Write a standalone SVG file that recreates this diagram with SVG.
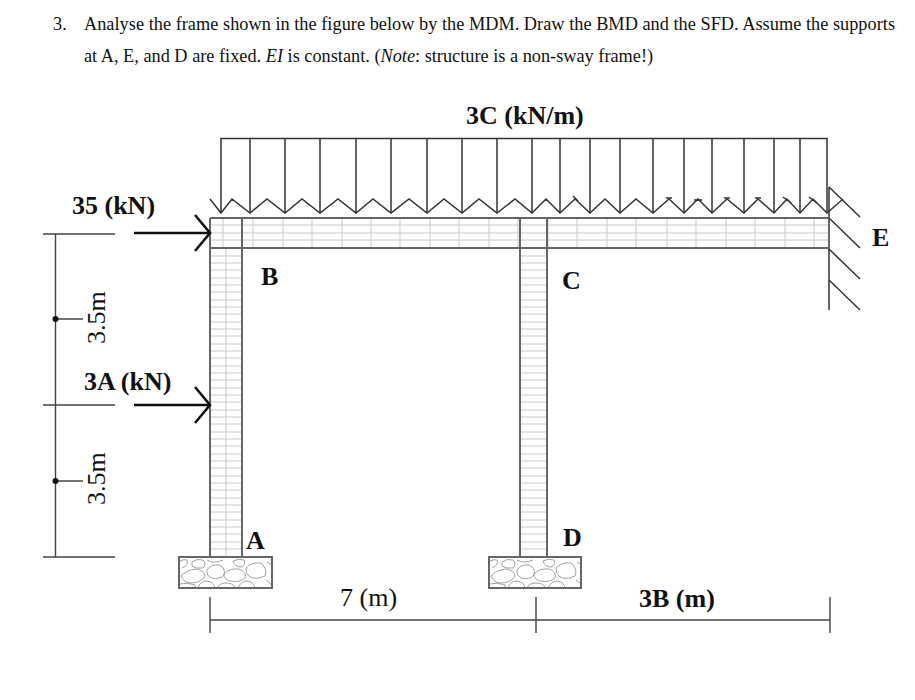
<svg xmlns="http://www.w3.org/2000/svg" width="915" height="700" viewBox="0 0 915 700">
<style>
text{font-family:"Liberation Serif","Times New Roman",serif;fill:#111}
.h{font-size:18.3px}
.b{font-size:26px;font-weight:bold}
.l{font-size:26px}
.g{stroke:#c8c8c8;stroke-width:1;fill:none}
.m{stroke:#666;stroke-width:2;fill:none}
.k{stroke:#333;stroke-width:1.5;fill:none}
.a{stroke:#111;stroke-width:2.6;fill:none}
.d{stroke:#444;stroke-width:1.4;fill:none}
.s{stroke:#a0a0a0;stroke-width:1;fill:none}
</style>
<defs>
<path id="stones" class="s" d="M13 5Q18 1 24 3Q28 7 24 11Q17 12 13 9ZM28 13Q32 7 40 8Q47 11 45 18Q40 23 33 21Q27 19 28 13ZM45 17Q50 11 60 12Q68 15 66 21Q60 26 51 24Q45 22 45 17ZM67 11Q72 5 82 6Q89 12 86 19Q78 23 71 20Q66 16 67 11ZM2 19Q7 13 17 12Q25 13 26 19Q22 26 12 26Q5 26 2 19ZM54 4Q59 1 65 3Q67 8 62 10Q56 10 54 4ZM19 31Q21 24 28 24Q35 25 36 31M38 31Q40 26 47 26Q55 26 56 31M59 31Q62 24 68 24Q75 25 76 31M1 27Q8 25 16 28V31M87 23Q91 25 93 29M1 4Q5 2 8 3Q10 8 3 11M28 3Q35 7 44 3M88 5L93 8"/>
</defs>
<g id="header">
<text class="h" x="53" y="30">3.</text>
<text class="h" x="84" y="30" textLength="811">Analyse the frame shown in the figure below by the MDM. Draw the BMD and the SFD. Assume the supports</text>
<text class="h" x="84" y="62">at A, E, and D are fixed. <tspan font-style="italic">EI</tspan> is constant. (<tspan font-style="italic">Note</tspan>: structure is a non-sway frame!)</text>
</g>
<g id="frame">
<path class="g" d="M210 225H829M210 233H829M210 240H829M223 218V248M253 218V248M283 218V248M312 218V248M342 218V248M371 218V248M400 218V248M430 218V248M459 218V248M489 218V248M518 218V248M548 218V248M577 218V248M607 218V248M636 218V248M667 218V248M696 218V248M726 218V248M755 218V248M785 218V248M814 218V248"/>
<path class="g" d="M210 256H242M210 263H242M210 270H242M210 278H242M210 285H242M210 292H242M210 300H242M210 307H242M210 314H242M210 322H242M210 329H242M210 336H242M210 344H242M210 351H242M210 358H242M210 366H242M210 373H242M210 380H242M210 388H242M210 395H242M210 402H242M210 410H242M210 417H242M210 424H242M210 432H242M210 439H242M210 446H242M210 454H242M210 461H242M210 468H242M210 476H242M210 483H242M210 490H242M210 498H242M210 505H242M210 512H242M210 520H242M210 527H242M210 534H242M210 542H242M210 549H242M226 248V557"/>
<path class="g" d="M520 256H547M520 263H547M520 270H547M520 278H547M520 285H547M520 292H547M520 300H547M520 307H547M520 314H547M520 322H547M520 329H547M520 336H547M520 344H547M520 351H547M520 358H547M520 366H547M520 373H547M520 380H547M520 388H547M520 395H547M520 402H547M520 410H547M520 417H547M520 424H547M520 432H547M520 439H547M520 446H547M520 454H547M520 461H547M520 468H547M520 476H547M520 483H547M520 490H547M520 498H547M520 505H547M520 512H547M520 520H547M520 527H547M520 534H547M520 542H547M520 549H547"/>
<path class="k" d="M210 218H829M210 248H829"/>
<path class="m" d="M210 218V557M242 218V557M520 218V557M547 218V557M829 187V310"/>
</g>
<g id="support-A">
<rect x="179" y="557" width="93" height="31" fill="#fff"/>
<use href="#stones" x="179" y="557"/>
<rect class="m" x="179" y="557" width="93" height="31"/>
</g>
<g id="support-D">
<rect x="489" y="557" width="92" height="31" fill="#fff"/>
<use href="#stones" x="489" y="557"/>
<rect class="m" x="489" y="557" width="92" height="31"/>
</g>
<g id="support-E">
<path class="k" d="M829 187L860 217M829 218L860 248M829 249L860 279M829 280L860 310"/>
</g>
<g id="load">
<path class="k" d="M221 213V138.500H827V213M250 138.500V213M285 138.500V213M320 138.500V213M356 138.500V213M391 138.500V213M427 138.500V213M462 138.500V213M497 138.500V213M532 138.500V213M560 138.500V213M590 138.500V213M620 138.500V213M653 138.500V213M684 138.500V213M712 138.500V213M744 138.500V213M774 138.500V213M800 138.500V213"/>
<path class="k" d="M210 199L221 213L232 199L250 213L267 199L285 213L302 199L320 213L338 199L356 213L373 199L391 213L409 199L427 213L444 199L462 213L479 199L497 213L515 199L532 213L546 199L560 213L575 199L590 213L605 199L620 213L636 199L653 213L669 199L684 213L698 199L712 213L727 199L744 213L758 199L774 213L787 199L800 213L813 199L827 213L843 199"/>
<path class="k" d="M694 200L702 200M573 196L578 201M783 197L791 203M809 197L817 203M666 198H672M724 198H730M755 198H761"/>
</g>
<g id="connectors">
<path class="a" d="M134 233H209M195 215L210 233L195 251"/>
<path class="a" d="M134 405H209M195 387L210 405L195 423"/>
<path class="d" d="M43 234H115M43 405H115M43 557H115M55.500 234V557M55.500 319H83M55.500 481H83"/>
<circle cx="55.500" cy="319" r="3" fill="#111"/>
<circle cx="55.500" cy="481" r="3" fill="#111"/>
<path class="d" d="M210 597V633M536 597V633M830 597V633M210 620H830"/>
</g>
<g id="labels">
<text class="b" x="72" y="214">35 (kN)</text>
<text class="b" x="84" y="390">3A (kN)</text>
<text class="b" x="466" y="124">3C (kN/m)</text>
<text class="b" x="261" y="285">B</text>
<text class="b" x="562" y="289">C</text>
<text class="b" x="246" y="549">A</text>
<text class="b" x="563" y="546">D</text>
<text class="b" x="872" y="246">E</text>
<text class="l" x="340" y="606">7 (m)</text>
<text class="b" x="639" y="607">3B (m)</text>
<text class="l" transform="translate(105 344) rotate(-90)">3.5m</text>
<text class="l" transform="translate(105 505) rotate(-90)">3.5m</text>
</g>
</svg>
